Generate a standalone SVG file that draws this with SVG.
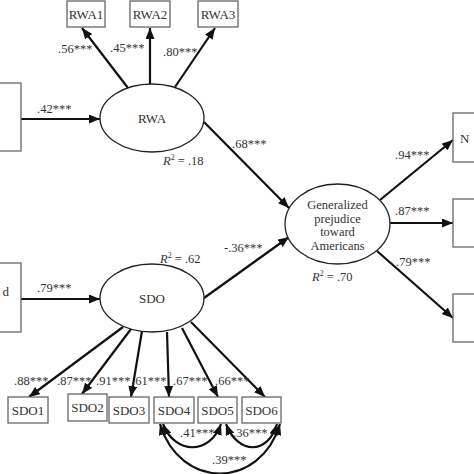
<svg xmlns="http://www.w3.org/2000/svg" width="474" height="474" viewBox="0 0 474 474">
<style>
text{font-family:"Liberation Serif","Times New Roman",serif;fill:#333;font-size:13px}
.lbl{font-size:12.5px}
.gp{font-size:12.5px}
.box{fill:#fff;stroke:#666;stroke-width:1.3}
.ell{fill:#fff;stroke:#222;stroke-width:1.3}
.arr{fill:none;stroke:#111;stroke-width:2.2;marker-end:url(#ah)}
.bi{fill:none;stroke:#111;stroke-width:2.2;marker-end:url(#ah);marker-start:url(#ah)}
</style>
<defs>
<marker id="ah" markerUnits="userSpaceOnUse" markerWidth="11" markerHeight="9" refX="11" refY="4.5" orient="auto-start-reverse">
<path d="M0,0 L11,4.5 L0,9 z" fill="#111"/>
</marker>
</defs>
<g id="connectors">
<path class="arr" d="M21,119 L100,119"/>
<path class="arr" d="M21,299 L100,299"/>
<path class="arr" d="M128,88 L82,28"/>
<path class="arr" d="M150,84 L150,28"/>
<path class="arr" d="M175,87 L215,28"/>
<path class="arr" d="M204,122 L289,208"/>
<path class="arr" d="M204,298 L289,237"/>
<path class="arr" d="M380,200 L453,140"/>
<path class="arr" d="M390,223 L453,223"/>
<path class="arr" d="M377,251 L453,318"/>
<path class="arr" d="M123,327 L29,397"/>
<path class="arr" d="M131,329 L82,394"/>
<path class="arr" d="M142,331 L131,397"/>
<path class="arr" d="M167,332 L169,397"/>
<path class="arr" d="M182,328 L218,397"/>
<path class="arr" d="M191,322 L265,397"/>
<path class="bi" d="M163,424 C175,455 210,455 221,424"/>
<path class="bi" d="M226,424 C238,455 268,455 277,424"/>
<path class="bi" d="M160,424 C180,490 260,490 280,424"/>
</g>
<g id="x_rwa_left"><rect class="box" x="-2" y="83" width="23" height="68"/></g>
<g id="x_sdo_left"><rect class="box" x="-2" y="263" width="23" height="69"/><text x="9" y="296" text-anchor="end">d</text></g>
<g id="rwa1"><rect class="box" x="67" y="1" width="38" height="26"/><text x="86" y="19" text-anchor="middle">RWA1</text></g>
<g id="rwa2"><rect class="box" x="130" y="1" width="40" height="26"/><text x="150" y="19" text-anchor="middle">RWA2</text></g>
<g id="rwa3"><rect class="box" x="198" y="1" width="40" height="26"/><text x="218" y="19" text-anchor="middle">RWA3</text></g>
<g id="rwa"><ellipse class="ell" cx="152" cy="118" rx="52" ry="34"/><text x="152" y="123" text-anchor="middle">RWA</text></g>
<g id="sdo"><ellipse class="ell" cx="152" cy="298" rx="52" ry="34"/><text x="152" y="303" text-anchor="middle">SDO</text></g>
<g id="gp"><ellipse class="ell" cx="337.5" cy="224" rx="52.5" ry="40"/>
<text class="gp" x="337.5" y="209" text-anchor="middle">Generalized</text>
<text class="gp" x="337.5" y="222.5" text-anchor="middle">prejudice</text>
<text class="gp" x="337.5" y="236" text-anchor="middle">toward</text>
<text class="gp" x="337.5" y="249.5" text-anchor="middle">Americans</text></g>
<g id="y1"><rect class="box" x="453" y="113" width="25" height="49"/><text x="460" y="143">N</text></g>
<g id="y2"><rect class="box" x="453" y="199" width="25" height="48"/></g>
<g id="y3"><rect class="box" x="453" y="294" width="25" height="48"/></g>
<g id="sdo1"><rect class="box" x="8" y="397" width="40" height="26"/><text x="28" y="415" text-anchor="middle">SDO1</text></g>
<g id="sdo2"><rect class="box" x="68" y="394" width="39" height="27"/><text x="87.5" y="412" text-anchor="middle">SDO2</text></g>
<g id="sdo3"><rect class="box" x="109" y="397" width="40" height="26"/><text x="129" y="415" text-anchor="middle">SDO3</text></g>
<g id="sdo4"><rect class="box" x="154" y="397" width="40" height="26"/><text x="174" y="415" text-anchor="middle">SDO4</text></g>
<g id="sdo5"><rect class="box" x="198" y="397" width="39" height="26"/><text x="217.5" y="415" text-anchor="middle">SDO5</text></g>
<g id="sdo6"><rect class="box" x="242" y="397" width="39" height="26"/><text x="261.5" y="415" text-anchor="middle">SDO6</text></g>
<g id="labels" class="lbl">
<text class="lbl" x="58" y="53">.56***</text>
<text class="lbl" x="110" y="52">.45***</text>
<text class="lbl" x="163" y="56">.80***</text>
<text class="lbl" x="37" y="113">.42***</text>
<text class="lbl" x="37" y="292">.79***</text>
<text class="lbl" x="232" y="148">.68***</text>
<text class="lbl" x="224" y="252">-.36***</text>
<text class="lbl" x="395" y="159">.94***</text>
<text class="lbl" x="395" y="215">.87***</text>
<text class="lbl" x="396" y="266">.79***</text>
<text class="lbl" x="14" y="385">.88***</text>
<text class="lbl" x="57" y="385">.87***</text>
<text class="lbl" x="96" y="385">.91***</text>
<text class="lbl" x="132" y="385">.61***</text>
<text class="lbl" x="173" y="385">.67***</text>
<text class="lbl" x="215" y="385">.66***</text>
<text class="lbl" x="180" y="437">.41***</text>
<text class="lbl" x="233" y="437">.36***</text>
<text class="lbl" x="212" y="464">.39***</text>
<text class="lbl" x="163" y="165"><tspan font-style="italic">R</tspan><tspan dy="-5" font-size="8">2</tspan><tspan dy="5"> = .18</tspan></text>
<text class="lbl" x="160" y="263"><tspan font-style="italic">R</tspan><tspan dy="-5" font-size="8">2</tspan><tspan dy="5"> = .62</tspan></text>
<text class="lbl" x="312" y="281"><tspan font-style="italic">R</tspan><tspan dy="-5" font-size="8">2</tspan><tspan dy="5"> = .70</tspan></text>
</g>
</svg>
